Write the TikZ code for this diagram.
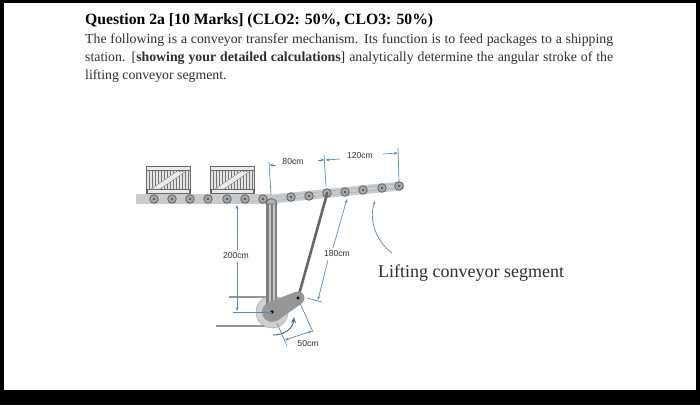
\documentclass[tikz,border=0pt]{standalone}
\usepackage{fontspec}
\setmainfont{Liberation Serif}
\setsansfont{Liberation Sans}
\usetikzlibrary{arrows.meta}
\definecolor{dimblue}{HTML}{5F88AB}
\definecolor{beltgrey}{HTML}{C9CCCE}
\definecolor{metalgrey}{HTML}{949698}
\definecolor{textgrey}{HTML}{2E2E2E}
\tikzset{
	dimline/.style={draw=dimblue, line width=0.7pt},
	dimarrow/.style={dimline, -{Stealth[length=4pt,width=3pt]}},
	dimlabel/.style={font=\sffamily\fontsize{8.6}{9}\selectfont, text=textgrey, inner sep=1pt},
	roller/.style={draw=black!65, fill=black!35, line width=0.7pt},
	slat/.style={draw=black!55, line width=0.8pt},
	bar/.style={draw=metalgrey, line width=2.4pt},
}
\def\crate[#1]{
	\draw[black!60, fill=black!10, line width=0.6pt] (#1, 170) rectangle (#1+44, 193);
	\draw[black!60, fill=black!8, line width=0.6pt] (#1, 166) rectangle (#1+44, 170);
	\foreach \s in {3,6,...,42} {\draw[slat] (#1+\s, 171) -- (#1+\s, 189);}
	\draw[black!60, fill=black!8, line width=0.5pt] (#1+1, 189) rectangle (#1+43, 193);
	\draw[black!50, fill=black!8, line width=0.4pt] (#1+5, 189) -- (#1+30, 172) -- (#1+39, 172) -- (#1+14, 189) -- cycle;
}
\def\roller(#1,#2){
	\draw[roller] (#1, #2) circle (4.3);
	\fill[black!75] (#1, #2) circle (1.2);
}

\begin{document}
\begin{tikzpicture}[x=1pt, y=-1pt]
	%%%%% START %%%%%
	\useasboundingbox (0, 0) rectangle (700, 405);
	\fill[black] (0, 0) rectangle (700, 405);
	\fill[white] (4, 3) rectangle (696, 390);

	\node[anchor=base west, inner sep=0, font=\bfseries\fontsize{15.7}{18}\selectfont, text=black] (title) at (85, 24) {Question 2a [10 Marks] (CLO2: 50\%, CLO3: 50\%)};
	\node[anchor=north west, inner sep=0, text width=528pt, align=justify, font=\fontsize{13.8}{18}\selectfont, text=textgrey] (body) at (85, 33.5) {The following is a conveyor transfer mechanism. Its function is to feed packages to a shipping station. [\textbf{showing your detailed calculations}] analytically determine the angular stroke of the lifting conveyor segment.};

	% conveyors
	\coordinate (hinge) at (272, 199);
	\coordinate (tip) at (400, 186);
	\fill[beltgrey] (136, 194) rectangle (272, 204);
	\draw[beltgrey, line width=9pt, line cap=round] (hinge) -- (tip);
	\draw[dimblue!70, line width=0.4pt] (225, 197) -- (272, 197) -- (396, 184);
	\draw[dimblue!70, line width=0.4pt] (225, 201) -- (272, 201) -- (396, 188);
	\crate[146]
	\crate[210]
	\foreach \x in {154,172,190,208,227,245,263} {\roller(\x,199)}
	\foreach \x/\y in {291/197,309/196,327/193,345/192,363/190,382/188,399/186} {\roller(\x,\y)}

	% column, bars, link and crank
	\coordinate (crankA) at (272, 312);
	\coordinate (crankB) at (298, 298);
	\coordinate (linkTop) at (327, 194);
	\draw[bar] (229, 297) -- (266, 297);
	\draw[bar] (216, 326) -- (266, 326);
	\fill[black!18, draw=metalgrey] (crankA) circle (16);
	\fill[black!50] (266, 204) -- (277, 204) -- (277, 304) -- (266, 304) -- cycle;
	\fill[black!22] (268.5, 204) rectangle (271, 304);
	\fill[black!22] (273, 204) rectangle (275, 304);
	\draw[black!60, fill=black!30, line width=0.8pt] (272, 204) -- (266, 204) arc[start angle=180, end angle=360, radius=5.5] -- cycle;
	\draw[black!60, line width=2.6pt] (crankB) -- (linkTop);
	\fill[metalgrey] (277, 321) -- (301, 304) -- (295, 292) -- (267, 303) -- cycle;
	\fill[metalgrey] (crankA) circle (10);
	\fill[metalgrey] (crankB) circle (6.5);
	\fill[black] (crankA) circle (1.8);
	\fill[black] (crankB) circle (1.6);

	% dimensions
	\node[dimlabel] (d80) at (293, 162) {80cm};
	\node[dimlabel] (d120) at (360, 156) {120cm};
	\node[dimlabel] (d200) at (236, 256) {200cm};
	\node[dimlabel] (d180) at (337, 254) {180cm};
	\node[dimlabel] (d50) at (308, 344) {50cm};
	\coordinate (tickA) at (269, 162);
	\coordinate (tickB) at (324, 155);
	\coordinate (tickC) at (398, 148);
	\draw[dimline] (tickA) -- (271, 195);
	\draw[dimline] (tickB) -- (326, 186);
	\draw[dimline] (tickC) -- (399, 182);
	\draw[dimarrow] (276, 165) -- (269.5, 165);
	\draw[dimarrow] (318, 160) -- (324.5, 160);
	\draw[dimarrow] (340, 159) -- (325.5, 160);
	\draw[dimarrow] (383, 154) -- (398, 153);
	\draw[dimarrow] (d200.north) ++(1, -2) -- (237, 205);
	\draw[dimarrow] (d200.south) ++(1, 2) -- (237, 311);
	\draw[dimline] (233, 312) -- (crankA);
	\draw[dimarrow] (d180.north) ++(-4, -2) -- (347, 199);
	\draw[dimarrow] (d180.south) ++(-9, 2) -- (318, 300);
	\draw[dimline] (307, 298) -- (322, 302);
	\draw[dimline] (300, 303) -- (313, 332);
	\draw[dimline] (277, 323) -- (287, 346);
	\draw[dimline, {Stealth[length=4pt,width=3pt]}-{Stealth[length=4pt,width=3pt]}] (285, 340) -- (312, 331);
	\draw[draw=dimblue!80!black, line width=1pt, -{Stealth[length=6pt,width=5pt]}] (273, 335) .. controls (285, 335) and (293, 328) .. (294, 317);

	% lifting segment
	\node[anchor=base west, inner sep=0, font=\fontsize{18}{20}\selectfont, text=textgrey] (lift) at (378, 277) {Lifting conveyor segment};
	\draw[dimarrow] (392, 253) .. controls (378, 243) and (368, 222) .. (375, 201);
	%%%%% END %%%%%
\end{tikzpicture}
\end{document}
